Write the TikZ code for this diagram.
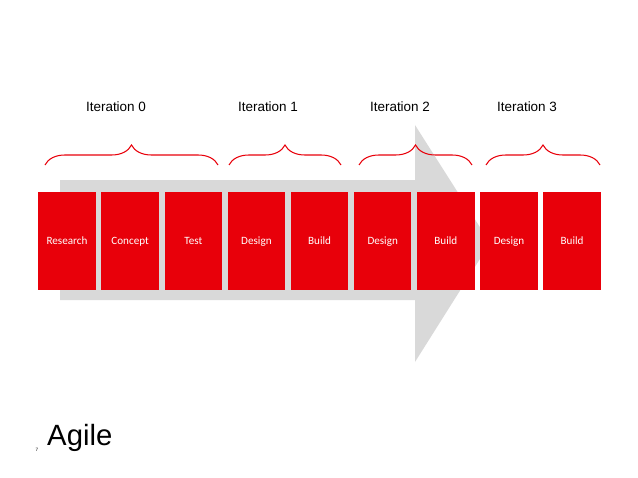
\documentclass[tikz,border=0pt]{standalone}
\usepackage{fontspec}
\setmainfont{Liberation Sans}
\newfontfamily\boxfont{Carlito}
\usetikzlibrary{positioning}
\usetikzlibrary{decorations.pathreplacing}
\definecolor{agilered}{RGB}{232,0,10}
\definecolor{arrowgray}{RGB}{217,217,217}
\begin{document}
\begin{tikzpicture}[x=0.03cm,y=-0.03cm,
phasenode/.style={rectangle, fill=agilered, minimum width=1.72cm, minimum height=2.94cm, inner sep=0pt, text=white, text height=1.6ex, text depth=0.4ex, font=\boxfont\fontsize{9.5}{10}\selectfont},
bracenode/.style={draw=agilered, line width=0.9pt, decorate, decoration={brace, amplitude=0.6cm, aspect=0.5}},
labelnode/.style={font=\fontsize{11.5}{13}\selectfont},
]
\useasboundingbox (0,0) rectangle (638,478);
%Arrow
\fill[arrowgray] (60,180) -- (415,180) -- (415,125) -- (490,243) -- (415,362) -- (415,300) -- (60,300) -- cycle;
%Boxes
\node[phasenode] (research) at (67,241) {Research};
\node[phasenode] (concept)  [right=0.16cm of research] {Concept};
\node[phasenode] (test)     [right=0.16cm of concept]  {Test};
\node[phasenode] (design1)  [right=0.16cm of test]     {Design};
\node[phasenode] (build1)   [right=0.16cm of design1]  {Build};
\node[phasenode] (design2)  [right=0.16cm of build1]   {Design};
\node[phasenode] (build2)   [right=0.16cm of design2]  {Build};
\node[phasenode] (design3)  [right=0.16cm of build2]   {Design};
\node[phasenode] (build3)   [right=0.16cm of design3]  {Build};
%Braces
\coordinate (b0l) at (45,165);  \coordinate (b0r) at (218,165);
\coordinate (b1l) at (229,165); \coordinate (b1r) at (341,165);
\coordinate (b2l) at (359,165); \coordinate (b2r) at (472,165);
\coordinate (b3l) at (486,165); \coordinate (b3r) at (600,165);
\draw[bracenode] (b0l) -- (b0r);
\draw[bracenode] (b1l) -- (b1r);
\draw[bracenode] (b2l) -- (b2r);
\draw[bracenode] (b3l) -- (b3r);
%Labels
\node[labelnode] (it0) at (116,107) {Iteration 0};
\node[labelnode] (it1) at (268,107) {Iteration 1};
\node[labelnode] (it2) at (400,107) {Iteration 2};
\node[labelnode] (it3) at (527,107) {Iteration 3};
\node[font=\fontsize{25}{28}\selectfont, anchor=west, inner sep=0pt] (title) at (47,438) {Agile};
\node[font=\fontsize{4}{5}\selectfont, inner sep=0pt] (page) at (37,450) {7};
\end{tikzpicture}
\end{document}
